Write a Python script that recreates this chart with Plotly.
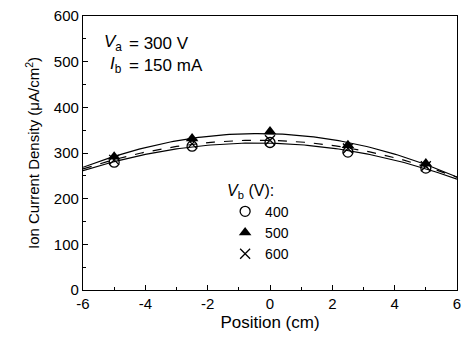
import numpy as np
import plotly.graph_objects as go

positions = [-5, -2.5, 0, 2.5, 5]
j_400 = [280, 315, 323, 302, 267]
j_500 = [292, 332, 347, 317, 277]
j_600 = [285, 320, 328, 310, 271]
series_names = ["400", "500", "600"]
x_ticks = [-6, -4, -2, 0, 2, 4, 6]
x_tick_text = ["-6", "-4", "-2", "0", "2", "4", "6"]
y_ticks = [0, 100, 200, 300, 400, 500, 600]

FONT = "Liberation Sans, Arial, sans-serif"

def fit_curve(xs, ys):
    c = np.polyfit(xs, ys, 2)
    xx = np.linspace(-6, 6, 121)
    return xx, np.polyval(c, xx)

fig = go.Figure()

# fit lines
for ys, dash in [(j_500, "solid"), (j_600, "dash"), (j_400, "solid")]:
    xx, yy = fit_curve(positions, ys)
    fig.add_trace(go.Scatter(x=xx, y=yy, mode="lines", showlegend=False,
                             line=dict(color="black", width=1.2, dash=dash),
                             hoverinfo="skip"))

# markers
fig.add_trace(go.Scatter(x=positions, y=j_400, mode="markers", name=series_names[0],
                         marker=dict(symbol="circle-open", size=10, color="black",
                                     line=dict(width=1.3, color="black"))))
fig.add_trace(go.Scatter(x=positions, y=j_500, mode="markers", name=series_names[1],
                         marker=dict(symbol="triangle-up", size=11, color="black")))
fig.add_trace(go.Scatter(x=positions, y=j_600, mode="markers", name=series_names[2],
                         marker=dict(symbol="x-thin-open", size=10, color="black",
                                     line=dict(width=1.3, color="black"))))

axis_common = dict(showline=True, linecolor="black", linewidth=1.3, mirror=True,
                   ticks="inside", ticklen=5, tickcolor="black", tickwidth=1,
                   showgrid=False, zeroline=False, automargin=False,
                   tickfont=dict(family=FONT, size=15, color="black"))

fig.update_xaxes(range=[-6, 6], tickvals=x_ticks, ticktext=x_tick_text,
                 title=dict(text="Position (cm)", font=dict(family=FONT, size=17, color="black"),
                            standoff=4),
                 minor=dict(ticks="inside", ticklen=3, dtick=1, tickcolor="black"),
                 **axis_common)
fig.update_yaxes(range=[0, 600], tickvals=y_ticks,
                 title=dict(text="Ion Current Density (μA/cm<sup>2</sup>)",
                            font=dict(family=FONT, size=15, color="black"), standoff=10),
                 minor=dict(ticks="inside", ticklen=3, dtick=50, tickcolor="black"),
                 **axis_common)

ann_font = dict(family=FONT, size=17, color="black")
fig.add_annotation(xref="paper", yref="paper", x=0.1096, y=0.901, xanchor="right", yanchor="middle",
                   text="<i>V</i><sub>a</sub>", showarrow=False, font=ann_font)
fig.add_annotation(xref="paper", yref="paper", x=0.1176, y=0.901, xanchor="left", yanchor="middle",
                   text="= 300 V", showarrow=False, font=ann_font)
fig.add_annotation(xref="paper", yref="paper", x=0.1096, y=0.821, xanchor="right", yanchor="middle",
                   text="<i>I</i><sub>b</sub>", showarrow=False, font=ann_font)
fig.add_annotation(xref="paper", yref="paper", x=0.1176, y=0.821, xanchor="left", yanchor="middle",
                   text="= 150 mA", showarrow=False, font=ann_font)

fig.update_layout(
    width=474, height=357,
    margin=dict(l=83, r=17, t=16, b=67),
    paper_bgcolor="white", plot_bgcolor="white",
    font=dict(family=FONT, size=15, color="black"),
    showlegend=True,
    legend=dict(x=0.38, y=0.42, xanchor="left", yanchor="top",
                bgcolor="rgba(0,0,0,0)",
                title=dict(text="<i>V</i><sub>b</sub> (V):", font=dict(family=FONT, size=16)),
                font=dict(family=FONT, size=14, color="black"),
                tracegroupgap=0, itemwidth=30),
)

fig.write_html("out.html", config={"displayModeBar": False},
               post_script="document.body.style.margin='0px';document.body.style.overflow='hidden';")
